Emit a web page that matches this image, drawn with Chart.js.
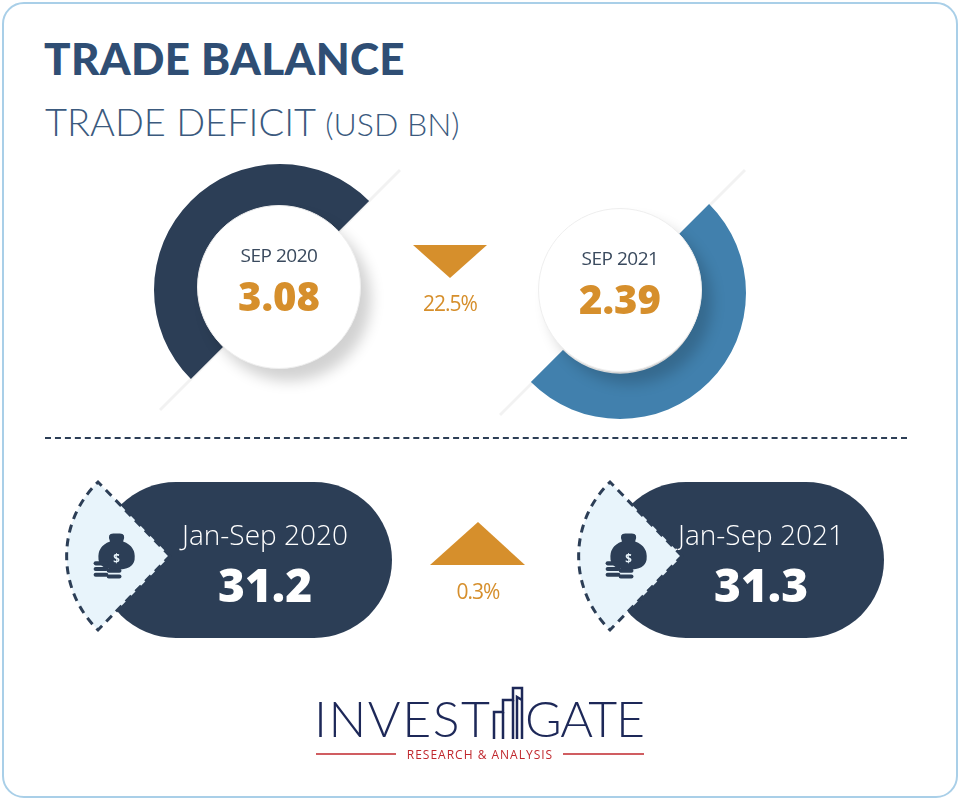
<!DOCTYPE html>
<html><head><meta charset="utf-8">
<script src="https://cdn.jsdelivr.net/npm/chart.js@4"></script>
<style>
body{margin:0;width:960px;height:800px;background:#fff;font-family:"Open Sans",Lato,sans-serif;overflow:hidden}
#card{position:absolute;left:2px;top:2px;width:952px;height:792px;border:2px solid #a9cfe8;border-radius:22px}
.abs{position:absolute}
#t1{left:44px;top:32px;font:900 44px Lato,sans-serif;color:#2f4e74;letter-spacing:0.3px}
#t2{left:45px;top:98px;font:300 38px Lato,sans-serif;color:#3b5a7e;letter-spacing:0px}
#t2 small{font-size:32px}
.circ{width:162px;height:162px;border-radius:50%;background:#fff;box-shadow:10px 12px 14px rgba(0,0,0,0.18);border:1px solid #eee;text-align:center}
.lab{font:400 19px "Open Sans",sans-serif;color:#3a4a5e;margin-top:36px;letter-spacing:-0.5px}
.val{font:800 40px "Open Sans",sans-serif;color:#d68f2c;margin-top:0px}
.pct{font:400 21px "Open Sans",sans-serif;color:#d68f2c;text-align:center;width:100px;letter-spacing:-1px}
.pill{height:156px;border-radius:78px;background:#2c3e56;color:#fff;text-align:center}
.pl{font:300 28px "Open Sans",sans-serif;margin-top:33px}
.pv{font:800 46px "Open Sans",sans-serif;margin-top:0px}
#dash{left:45px;top:437px;width:862px;height:0;border-top:2px dashed #2c3e56}
</style></head><body>
<div id="card"></div>
<div class="abs" id="t1">TRADE BALANCE</div>
<div class="abs" id="t2">TRADE DEFICIT <small>(USD BN)</small></div>

<svg class="abs" style="left:0;top:0" width="960" height="800">
 <line x1="400" y1="170" x2="160" y2="410" stroke="#000" stroke-opacity="0.05" stroke-width="3"/>
 <line x1="745" y1="170" x2="500" y2="415" stroke="#000" stroke-opacity="0.05" stroke-width="3"/>
</svg>
<canvas class="abs" id="c1" width="260" height="260" style="left:150px;top:160px;width:260px;height:260px"></canvas>
<canvas class="abs" id="c2" width="260" height="260" style="left:490px;top:163px;width:260px;height:260px"></canvas>

<div class="abs circ" id="k1" style="left:197px;top:205px"></div>
<div class="abs circ" id="k2" style="left:538px;top:208px"></div>

<svg class="abs" style="left:0;top:0" width="960" height="800">
 <polygon points="413,245 487,245 450,278" fill="#d68f2c"/>
 <polygon points="430,565 525,565 478,522" fill="#d68f2c"/>
</svg>
<div class="abs pct" id="p1" style="left:400px;top:289px"></div>
<div class="abs pct" id="p2" style="left:428px;top:577px"></div>

<div class="abs" id="dash"></div>

<div class="abs pill" style="left:98px;top:482px;width:294px"><div style="margin-left:40px"><div class="pl" id="l1"></div><div class="pv" id="v1"></div></div></div>
<div class="abs pill" style="left:608px;top:482px;width:276px"><div style="margin-left:30px"><div class="pl" id="l2"></div><div class="pv" id="v2"></div></div></div>

<svg class="abs" style="left:0;top:0" width="960" height="800">
 <defs>
  <g id="fan">
   <path d="M0,0 L-72,-74 A103,103 0 0 0 -72,74 Z" fill="#e8f4fb" stroke="#2c3e56" stroke-width="3" stroke-dasharray="8,6"/>
   <g fill="#2c3e56" transform="translate(-60,2) scale(0.82) translate(60,0)">
    <path d="M-60,-20 q-4,-10 4,-10 l8,0 q8,0 4,10 q16,6 14,22 q-2,12 -22,12 q-20,0 -22,-12 q-2,-16 14,-22z"/>
    <text x="-52" y="6" font-family="Open Sans" font-size="14" font-weight="700" fill="#e8f4fb" text-anchor="middle">$</text>
    <rect x="-80" y="4" width="18" height="5" rx="2.5"/><rect x="-80" y="11" width="18" height="5" rx="2.5"/><rect x="-80" y="18" width="18" height="5" rx="2.5"/>
    <rect x="-64" y="13" width="18" height="5" rx="2.5"/><rect x="-64" y="20" width="18" height="5" rx="2.5"/>
   </g>
  </g>
 </defs>
 <use href="#fan" x="170" y="556"/>
 <use href="#fan" x="682" y="556"/>
 <text x="314" y="737" font-family="Lato" font-weight="300" font-size="50" fill="#1d2858" textLength="176">INVEST</text>
 <g fill="none" stroke="#1d2858" stroke-width="2.5">
  <path d="M494,739 V712 H503 V700 H513 V688 H522 V739"/>
  <path d="M503,739 V712 M513,739 V700 M517,739 V697 L522,700"/>
 </g>
 <text x="525" y="737" font-family="Lato" font-weight="300" font-size="50" fill="#1d2858" textLength="120">GATE</text>
 <line x1="316" y1="754" x2="396" y2="754" stroke="#c0272d" stroke-width="1.5"/>
 <line x1="563" y1="754" x2="644" y2="754" stroke="#c0272d" stroke-width="1.5"/>
 <text x="480" y="759" font-family="Open Sans" font-size="12" fill="#c0272d" text-anchor="middle" letter-spacing="1">RESEARCH &amp; ANALYSIS</text>
</svg>

<script>
const periods = ["SEP 2020", "SEP 2021"];
const deficits = [3.08, 2.39];
const ytdPeriods = ["Jan-Sep 2020", "Jan-Sep 2021"];
const ytdDeficits = [31.2, 31.3];
const changes = ["22.5%", "0.3%"];
const arcColors = ["#2c3e56", "#4180ad"];
const rotations = [225, 45];

document.getElementById('k1').innerHTML = '<div class="lab">'+periods[0]+'</div><div class="val">'+deficits[0].toFixed(2)+'</div>';
document.getElementById('k2').innerHTML = '<div class="lab">'+periods[1]+'</div><div class="val">'+deficits[1].toFixed(2)+'</div>';
document.getElementById('p1').textContent = changes[0];
document.getElementById('p2').textContent = changes[1];
document.getElementById('l1').textContent = ytdPeriods[0];
document.getElementById('v1').textContent = ytdDeficits[0].toFixed(1);
document.getElementById('l2').textContent = ytdPeriods[1];
document.getElementById('v2').textContent = ytdDeficits[1].toFixed(1);

['c1','c2'].forEach((id,i)=>{
  new Chart(document.getElementById(id), {
    type:'doughnut',
    data:{labels:[periods[i], ''], datasets:[{data:[deficits[i], deficits[i]], backgroundColor:[arcColors[i], 'rgba(0,0,0,0)'], borderWidth:0}]},
    options:{responsive:false, animation:false, rotation:rotations[i], cutout:'64%',
      layout:{padding:4}, plugins:{legend:{display:false}, tooltip:{enabled:false}}}
  });
});
</script>
</body></html>
